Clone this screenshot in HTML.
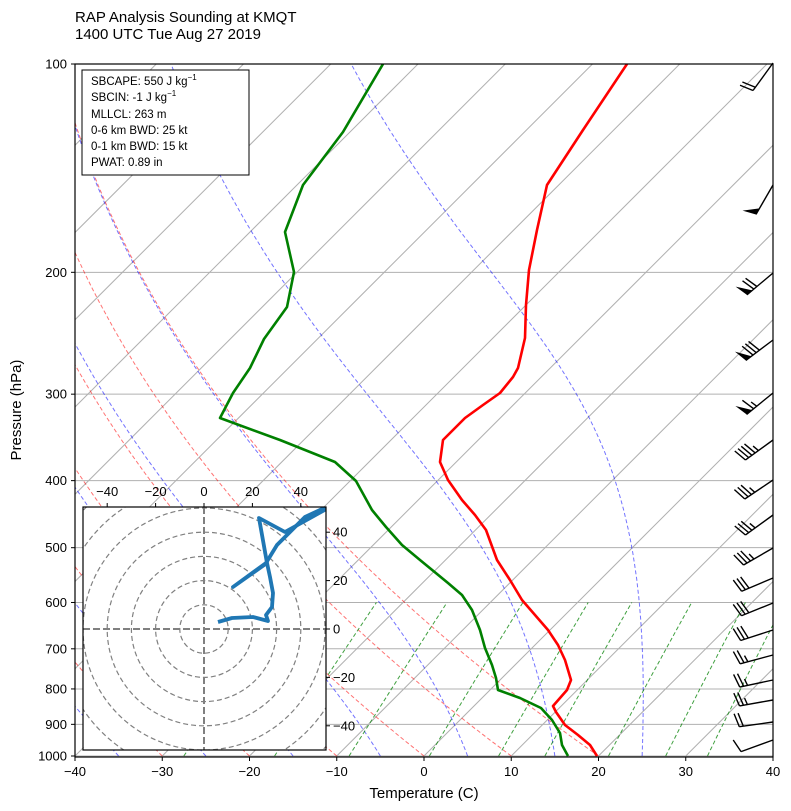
<!DOCTYPE html>
<html><head><meta charset="utf-8">
<style>
html,body{margin:0;padding:0;background:#fff;}
svg{display:block;font-family:"Liberation Sans","DejaVu Sans",sans-serif;}
</style></head>
<body>
<svg id="s" width="791" height="811" viewBox="0 0 791 811" xmlns="http://www.w3.org/2000/svg">
<defs><clipPath id="pc"><rect x="75" y="64" width="698" height="693"/></clipPath>
<clipPath id="hc"><rect x="83" y="507" width="243" height="243"/></clipPath></defs>
<rect width="791" height="811" fill="#fff"/>
<g id="bg" clip-path="url(#pc)"></g>
<g id="tr" clip-path="url(#pc)"></g>
<g id="barbs"></g>
<rect x="75" y="64" width="698" height="693" fill="none" stroke="#000" stroke-width="1.2"/>
<g id="ax" font-size="13" fill="#000"></g>
<text x="75" y="22" font-size="15">RAP Analysis Sounding at KMQT</text>
<text x="75" y="39" font-size="15">1400 UTC Tue Aug 27 2019</text>
<text x="424" y="798" font-size="15" text-anchor="middle">Temperature (C)</text>
<text transform="translate(21,410) rotate(-90)" font-size="15" text-anchor="middle">Pressure (hPa)</text>
<rect x="82" y="70" width="167" height="105" fill="#fff" stroke="#000" stroke-width="1"/>
<g font-size="11.5">
<text x="91" y="85">SBCAPE: 550 J kg<tspan font-size="8" dy="-5">−1</tspan></text>
<text x="91" y="101">SBCIN: -1 J kg<tspan font-size="8" dy="-5">−1</tspan></text>
<text x="91" y="118">MLLCL: 263 m</text>
<text x="91" y="134">0-6 km BWD: 25 kt</text>
<text x="91" y="150">0-1 km BWD: 15 kt</text>
<text x="91" y="166">PWAT: 0.89 in</text>
</g>
<g id="hodo"></g>
</svg>
<script>
var NS="http://www.w3.org/2000/svg";
function el(p,t,a){var e=document.createElementNS(NS,t);for(var k in a)e.setAttribute(k,a[k]);p.appendChild(e);return e;}
function Y(p){return 756-692*Math.log10(1000/p);}
function X(T,p){return 75+(T+40)*8.725+(756-Y(p));}
var bg=document.getElementById('bg'),tr=document.getElementById('tr'),ax=document.getElementById('ax');
var levels=[100,200,300,400,500,600,700,800,900,1000];
levels.forEach(function(p){var y=Y(p);el(bg,'line',{x1:75,x2:773,y1:y,y2:y,stroke:'#b0b0b0','stroke-width':1});
 el(ax,'line',{x1:71,x2:75,y1:y,y2:y,stroke:'#000'});
 var t=el(ax,'text',{x:67,y:y+4.5,'text-anchor':'end'});t.textContent=p;});
for(var T=-150;T<=40;T+=10){var x0=75+(T+40)*8.725;el(bg,'line',{x1:x0,y1:756,x2:x0+692,y2:64,stroke:'#b0b0b0','stroke-width':1});}
for(var T=-40;T<=40;T+=10){var x=75+(T+40)*8.725;el(ax,'line',{x1:x,x2:x,y1:757,y2:761,stroke:'#000'});
 var t=el(ax,'text',{x:x,y:776,'text-anchor':'middle'});t.textContent=(T<0?'−'+(-T):T);}
function pl(g,pts,st){return el(g,'polyline',Object.assign({points:pts.map(function(q){return q[0].toFixed(1)+','+q[1].toFixed(1);}).join(' '),fill:'none'},st));}
// dry adiabats
for(var th=-40;th<=20;th+=10){var pts=[];for(var p=1000;p>=100;p-=10){var Tk=(th+273.15)*Math.pow(p/1000,0.2857);pts.push([X(Tk-273.15,p),Y(p)]);}
 pl(bg,pts,{stroke:'#ff0000','stroke-opacity':0.55,'stroke-width':1,'stroke-dasharray':'4,2.5'});}
// moist adiabats
function es(Tk){return 6.112*Math.exp(17.67*(Tk-273.15)/(Tk-29.65));}
function dTdp(Tk,p){var e=es(Tk);var rs=0.622*e/(p-e);var Rd=287.04,Cp=1005.7,Lv=2.501e6;
 return (Rd*Tk+Lv*rs)/(p*(Cp+Lv*Lv*rs*0.622/(Rd*Tk*Tk)));}
for(var t0=-35;t0<=25;t0+=10){var Tk=t0+273.15,p=1000,pts=[[X(t0,1000),756]];
 while(p>100){var dp=-5;var k1=dTdp(Tk,p);var k2=dTdp(Tk+k1*dp/2,p+dp/2);Tk+=k2*dp;p+=dp;pts.push([X(Tk-273.15,p),Y(p)]);}
 pl(bg,pts,{stroke:'#0000ff','stroke-opacity':0.55,'stroke-width':1,'stroke-dasharray':'4,2.5'});}
// mixing ratio
[0.0004,0.001,0.002,0.004,0.007,0.01,0.016,0.024,0.032].forEach(function(w){var pts=[];
 for(var p=1000;p>=600;p-=20){var e=p*w/(0.622+w);var l=Math.log(e/6.112);var Td=243.5*l/(17.67-l);pts.push([X(Td,p),Y(p)]);}
 pl(bg,pts,{stroke:'#008000','stroke-opacity':0.75,'stroke-width':1,'stroke-dasharray':'4,2.5'});});
// traces
var red=[[597,756],[590,745],[578,735],[565,725],[556,712],[553,706],[567,690],[571,680],[565,660],[558,645],[548,630],[535,615],[522,600],[510,580],[497,560],[486,530],[475,515],[462,500],[448,480],[440,462],[443,440],[465,418],[483,405],[500,393],[513,377],[518,368],[525,338],[526,305],[529,270],[537,230],[547,185],[583,130],[627,64]];
var grn=[[568,756],[562,745],[560,733],[552,720],[541,708],[520,698],[498,690],[496,678],[492,665],[485,648],[480,630],[472,610],[462,595],[448,583],[420,560],[402,545],[386,527],[372,510],[356,481],[335,462],[280,440],[220,418],[233,393],[250,368],[264,339],[287,307],[294,272],[285,232],[303,185],[343,132],[383,64]];
pl(tr,red,{stroke:'#ff0000','stroke-width':2.6,'stroke-linejoin':'round'});
pl(tr,grn,{stroke:'#008000','stroke-width':2.6,'stroke-linejoin':'round'});
// barbs
var bb=document.getElementById('barbs');
var barbs=[[63,126,'LL'],[185,120,'F'],[273,140,'FLL'],[340,143,'FLLL'],[393,141,'FLH'],[440,144,'LLLLH'],[480,146,'LLLH'],[515,144,'LLLH'],[548,150,'LLLH'],[578,157,'LLL'],[603,158,'LLL'],[630,162,'LLL'],[655,165,'LLH'],[680,168,'LLH'],[700,170,'LLH'],[722,172,'LL'],[740,160,'L']];
barbs.forEach(function(b){var a=b[1]*Math.PI/180,ux=Math.cos(a),uy=Math.sin(a),L=34;
 var ex=773+ux*L,ey=b[0]+uy*L;el(bb,'line',{x1:773,y1:b[0],x2:ex,y2:ey,stroke:'#000','stroke-width':1.4});
 var fa=a+76*Math.PI/180,fx=Math.cos(fa),fy=Math.sin(fa);var d=0;
 for(var i=0;i<b[2].length;i++){var c=b[2][i];var bx=ex-ux*d,by=ey-uy*d;
  if(c=='F'){var b2x=bx-ux*7,b2y=by-uy*7;el(bb,'polygon',{points:bx+','+by+' '+(bx+fx*14)+','+(by+fy*14)+' '+b2x+','+b2y,fill:'#000'});d+=9;}
  else{var len=c=='L'?14:7;el(bb,'line',{x1:bx,y1:by,x2:bx+fx*len,y2:by+fy*len,stroke:'#000','stroke-width':1.4});d+=4;}}});
// hodograph
var h=document.getElementById('hodo');var cx=204,cy=629,s=2.42;
el(h,'rect',{x:83,y:507,width:243,height:243,fill:'#fff'});
var hc=el(h,'g',{'clip-path':'url(#hc)'});
for(var r=10;r<=70;r+=10)el(hc,'circle',{cx:cx,cy:cy,r:r*s,fill:'none',stroke:'#808080','stroke-width':1.2,'stroke-dasharray':'5,3'});
el(hc,'line',{x1:83,x2:326,y1:cy,y2:cy,stroke:'#808080','stroke-width':2,'stroke-dasharray':'7,3'});
el(hc,'line',{x1:cx,x2:cx,y1:507,y2:750,stroke:'#808080','stroke-width':2,'stroke-dasharray':'7,3'});
pl(hc,[[218,622],[232,618],[253,617],[268,621],[266,615],[272,607],[273,593],[270,577],[267,563],[233,587],[266,563],[277,545],[289,533],[305,517],[320,510],[330,505]],{stroke:'#1f77b4','stroke-width':3.8,'stroke-linejoin':'round'});
pl(hc,[[267,563],[259,518],[285,532],[330,507]],{stroke:'#1f77b4','stroke-width':3.8,'stroke-linejoin':'round'});
el(h,'rect',{x:83,y:507,width:243,height:243,fill:'none',stroke:'#000','stroke-width':1.2});
[-40,-20,0,20,40].forEach(function(v){var x=cx+v*s;el(h,'line',{x1:x,x2:x,y1:503,y2:507,stroke:'#000'});
 var t=el(h,'text',{x:x,y:496,'text-anchor':'middle','font-size':13});t.textContent=(v<0?'−'+(-v):v);
 var y=cy-v*s;el(h,'line',{x1:326,x2:330,y1:y,y2:y,stroke:'#000'});
 var t2=el(h,'text',{x:333,y:y+4.5,'font-size':13});t2.textContent=(v<0?'−'+(-v):v);});
</script>
</body></html>
